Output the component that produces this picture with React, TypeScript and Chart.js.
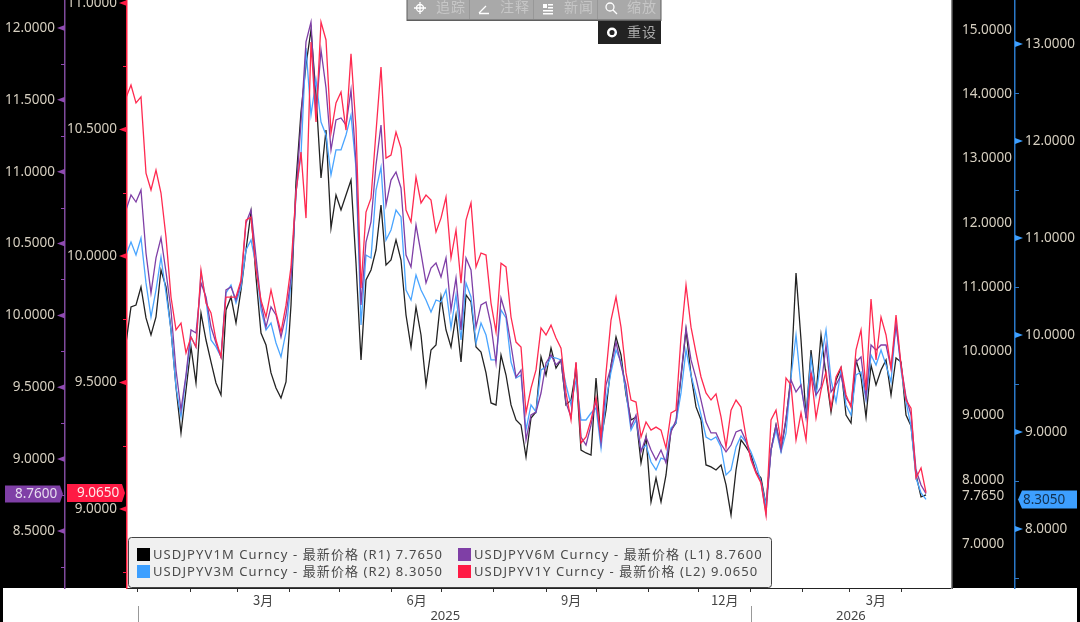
import React, { useEffect, useRef } from "react";
import { Chart, registerables } from "chart.js";

Chart.register(...registerables);

const usdjpyv1m = [
  10.129,10.689,10.720,11.000,10.518,10.253,10.533,11.265,11.000,10.331,
  9.444,8.728,9.397,10.066,9.506,10.595,10.175,9.833,9.506,9.319,
  10.642,10.845,10.440,10.953,11.576,12.167,11.156,10.284,10.097,9.662,
  9.428,9.273,9.522,10.720,12.634,13.724,14.455,15.000,13.988,12.697,
  13.444,11.918,12.432,12.199,12.432,12.665,11.374,9.864,11.109,11.265,
  11.576,12.276,11.343,11.420,11.732,11.420,10.564,10.066,10.689,10.253,
  9.475,10.020,10.097,10.845,10.331,10.066,10.564,9.833,10.876,10.767,
  10.066,9.988,9.662,9.195,9.164,9.942,9.630,9.164,8.930,8.852,
  8.354,8.961,9.055,9.911,9.630,10.051,9.739,9.864,9.164,9.241,
  9.708,8.463,8.417,8.385,9.584,8.619,9.086,9.786,10.222,9.942,
  9.319,8.930,8.977,8.261,8.666,7.654,8.027,7.654,8.074,8.774,
  8.883,9.599,10.331,9.630,9.133,8.930,8.230,8.199,8.152,8.230,
  7.919,7.452,8.152,8.619,8.510,8.385,8.121,8.027,7.607,8.463,
  8.852,8.463,8.930,9.630,11.218,10.175,8.961,10.020,9.319,10.253,
  9.630,9.055,9.553,9.739,9.008,8.883,9.864,9.599,8.977,9.786,
  9.475,9.708,9.864,9.319,9.895,9.833,9.008,8.837,8.074,7.732,
  7.765,
];

const usdjpyv3m = [
  10.825,10.959,10.825,11.000,10.537,10.186,10.464,10.805,10.433,10.052,
  9.464,9.155,9.567,9.980,9.877,10.640,10.361,9.949,9.877,9.774,
  10.433,10.516,10.330,10.495,10.877,10.980,10.722,10.258,10.052,10.124,
  9.918,9.774,10.031,10.547,11.475,11.856,12.959,12.268,12.629,12.196,
  12.062,11.650,11.908,11.908,12.062,12.268,11.722,10.104,10.825,10.794,
  11.495,11.732,10.980,11.083,11.289,11.217,10.464,10.361,10.619,10.464,
  10.361,10.238,10.361,10.341,10.464,10.073,10.413,9.949,10.537,10.392,
  9.918,10.124,10.000,9.743,9.743,10.258,10.176,9.722,9.557,9.588,
  9.021,9.279,9.207,9.640,9.671,9.774,9.763,9.743,9.485,9.279,
  9.537,9.124,9.124,9.196,9.248,8.836,9.330,9.619,9.846,9.722,
  9.413,9.021,9.124,8.815,8.866,8.691,8.609,8.732,8.712,9.042,
  9.093,9.403,9.846,9.588,9.382,9.176,8.949,8.918,8.949,8.846,
  8.557,8.609,8.846,8.959,8.897,8.794,8.660,8.485,8.248,8.815,
  9.021,8.794,8.990,9.567,10.000,9.464,9.176,9.763,9.382,9.743,
  10.052,9.537,9.310,9.640,9.279,9.176,9.588,9.619,9.330,9.794,
  9.691,9.846,9.691,9.516,10.134,9.640,9.310,9.062,8.526,8.372,
  8.305,
];

const usdjpyv6m = [
  10.734,10.838,10.789,10.873,10.434,10.156,10.400,10.539,10.302,10.038,
  9.620,9.342,9.585,9.899,9.878,10.226,10.128,9.919,9.808,9.711,
  10.177,10.198,10.107,10.226,10.643,10.734,10.407,10.086,9.919,10.059,
  10.003,9.850,10.003,10.260,10.838,11.346,11.903,12.042,11.395,11.847,
  11.583,11.151,11.360,11.374,11.325,11.569,11.061,10.073,10.511,10.650,
  11.047,11.325,10.768,10.942,10.998,10.887,10.420,10.337,10.629,10.434,
  10.226,10.330,10.365,10.267,10.400,10.038,10.260,9.899,10.400,10.316,
  9.919,10.073,10.093,9.933,9.669,10.121,10.003,9.794,9.571,9.620,
  9.133,9.307,9.328,9.460,9.669,9.725,9.655,9.690,9.391,9.293,
  9.669,9.154,9.098,9.237,9.411,9.112,9.516,9.641,9.815,9.655,
  9.516,9.224,9.307,9.050,9.154,9.063,8.994,9.063,8.973,9.189,
  9.272,9.585,9.912,9.690,9.564,9.411,9.258,9.182,9.182,9.105,
  9.050,9.098,9.189,9.203,9.126,9.008,8.910,8.841,8.625,9.063,
  9.237,9.063,9.286,9.551,9.467,9.516,9.286,9.606,9.446,9.502,
  9.794,9.467,9.516,9.585,9.425,9.377,9.676,9.711,9.432,9.794,
  9.759,9.794,9.794,9.634,9.933,9.655,9.432,9.307,8.924,8.820,
  8.760,
];

const usdjpyv1y = [
  10.625,10.676,10.605,10.629,10.328,10.261,10.340,10.249,10.075,9.838,
  9.708,9.735,9.617,9.680,9.640,9.945,9.814,9.775,9.668,9.601,
  9.838,9.838,9.838,9.905,10.142,10.154,9.945,9.826,9.759,9.866,
  9.775,9.700,9.806,9.957,10.253,10.411,10.150,10.846,10.530,10.925,
  10.854,10.486,10.605,10.648,10.498,10.799,10.506,9.874,10.174,10.229,
  10.490,10.747,10.387,10.399,10.490,10.427,10.182,10.135,10.312,10.210,
  10.241,10.221,10.095,10.150,10.233,9.992,10.103,9.893,10.142,10.210,
  9.957,10.012,10.004,9.814,9.700,9.972,9.957,9.759,9.660,9.640,
  9.380,9.478,9.550,9.716,9.688,9.727,9.676,9.636,9.459,9.352,
  9.581,9.261,9.285,9.352,9.439,9.285,9.538,9.747,9.838,9.719,
  9.538,9.431,9.423,9.285,9.344,9.312,9.324,9.312,9.241,9.380,
  9.391,9.680,9.885,9.719,9.617,9.522,9.459,9.431,9.455,9.364,
  9.245,9.391,9.431,9.403,9.285,9.194,9.142,9.103,8.976,9.352,
  9.391,9.261,9.518,9.490,9.273,9.380,9.273,9.538,9.360,9.470,
  9.542,9.399,9.522,9.561,9.451,9.403,9.629,9.708,9.470,9.830,
  9.589,9.759,9.688,9.557,9.767,9.569,9.431,9.399,9.123,9.162,
  9.065,
];

// Sampling dates, in days since 1 Jan 2025
const sampleDays = usdjpyv1y.map((_, i) => -7.15 + 2.978 * i);

const monthStartDays = [0, 31, 59, 90, 120, 151, 181, 212, 243, 273, 304, 334, 365, 396, 424, 455];
const monthLabelDays = [74.5, 166, 258, 349.5, 439.5];
const monthLabels = ["3月", "6月", "9月", "12月", "3月"];
const yearLabelDays = [183, 424.6];
const yearLabels = ["2025", "2026"];
const yearStartDays = [0, 365];

const l1Ticks = [8.25, 8.5, 8.75, 9, 9.25, 9.5, 9.75, 10, 10.25, 10.5, 10.75, 11, 11.25, 11.5, 11.75, 12];
const l2Ticks = [8.75, 9, 9.25, 9.5, 9.75, 10, 10.25, 10.5, 10.75, 11];
const r1Ticks = [7, 8, 9, 10, 11, 12, 13, 14, 15];
const r2Ticks = [7.5, 8, 8.5, 9, 9.5, 10, 10.5, 11, 11.5, 12, 12.5, 13];

const toolbarLabels = ["追踪", "注释", "新闻", "缩放"];
const resetLabel = "重设";

const legendRows = [
  { text: "USDJPYV1M Curncy - 最新价格 (R1) 7.7650", color: "#000000" },
  { text: "USDJPYV3M Curncy - 最新价格 (R2) 8.3050", color: "#3d9fff" },
  { text: "USDJPYV6M Curncy - 最新价格 (L1) 8.7600", color: "#7f3fa6" },
  { text: "USDJPYV1Y Curncy - 最新价格 (L2) 9.0650", color: "#ff1a44" },
];

const AXIS_TEXT = "#d6cfc0";
const FONT = '"Noto Sans", "Noto Sans CJK SC", sans-serif';
const CJK = '"Noto Sans CJK SC", "Noto Sans", sans-serif';

function noMargins(s: any) {
  s.paddingTop = 0;
  s.paddingBottom = 0;
  s.paddingLeft = 0;
  s.paddingRight = 0;
}
function fixedWidth(w: number) {
  return (s: any) => { s.width = w; noMargins(s); };
}
function fixedHeight(h: number) {
  return (s: any) => { s.height = h; noMargins(s); };
}

function yAxis(position: string, weight: number, min: number, max: number, list: number[], major: number, width: number, border: string) {
  return {
    type: "linear",
    position,
    weight,
    min,
    max,
    afterBuildTicks: (s: any) => { s.ticks = list.map((value) => ({ value })); },
    afterFit: fixedWidth(width),
    grid: { display: false, drawOnChartArea: false, drawTicks: false },
    border: { display: true, color: border, width: 1.5 },
    ticks: {
      autoSkip: false,
      padding: 10,
      color: AXIS_TEXT,
      font: { family: FONT, size: 13.5 },
      callback: (v: number) => (Math.abs(v / major - Math.round(v / major)) < 1e-6 ? v.toFixed(4) : ""),
    },
  };
}

function badge(ctx: any, xBody0: number, xBody1: number, xTip: number, y: number, h: number, fill: string, text: string, textColor: string, textX: number) {
  ctx.save();
  ctx.fillStyle = fill;
  ctx.beginPath();
  ctx.moveTo(xBody0, y - h / 2);
  ctx.lineTo(xBody1, y - h / 2);
  ctx.lineTo(xTip, y);
  ctx.lineTo(xBody1, y + h / 2);
  ctx.lineTo(xBody0, y + h / 2);
  ctx.closePath();
  ctx.fill();
  ctx.fillStyle = textColor;
  ctx.font = `13.5px ${FONT}`;
  ctx.textAlign = "left";
  ctx.textBaseline = "middle";
  ctx.fillText(text, textX, y + 0.5);
  ctx.restore();
}

function markers(ctx: any, scale: any, axisX: number, dir: number, major: number, fill: string, minorColor: string, list: number[]) {
  ctx.save();
  for (const v of list) {
    const y = scale.getPixelForValue(v);
    const isMajor = Math.abs(v / major - Math.round(v / major)) < 1e-6;
    if (isMajor) {
      ctx.fillStyle = fill;
      ctx.beginPath();
      ctx.moveTo(axisX, y - 3);
      ctx.lineTo(axisX + dir * 8, y);
      ctx.lineTo(axisX, y + 3);
      ctx.closePath();
      ctx.fill();
    } else {
      ctx.strokeStyle = minorColor;
      ctx.lineWidth = 1;
      ctx.beginPath();
      ctx.moveTo(axisX, Math.round(y) + 0.5);
      ctx.lineTo(axisX + dir * 4, Math.round(y) + 0.5);
      ctx.stroke();
    }
  }
  ctx.restore();
}

const backdrop = {
  id: "backdrop",
  beforeDraw(chart: any) {
    const { ctx, chartArea: a, width, height } = chart;
    ctx.save();
    ctx.fillStyle = "#000000";
    ctx.fillRect(0, 0, width, height);
    ctx.fillStyle = "#ffffff";
    ctx.fillRect(a.left, a.top, a.right - a.left, a.bottom - a.top);
    ctx.fillRect(3, a.bottom, 1074, height - a.bottom);
    ctx.restore();
  },
};

const overlay = {
  id: "overlay",
  afterDraw(chart: any) {
    const { ctx, scales } = chart;

    // year separators
    ctx.save();
    ctx.strokeStyle = "#999999";
    ctx.lineWidth = 1;
    for (const d of yearStartDays) {
      const x = Math.round(scales.x.getPixelForValue(d)) + 0.5;
      ctx.beginPath();
      ctx.moveTo(x, 606);
      ctx.lineTo(x, 622);
      ctx.stroke();
    }
    ctx.restore();

    // axis markers
    markers(ctx, scales.l1, 65, -1, 0.5, "#8e4bb0", "#8e4bb0", l1Ticks);
    markers(ctx, scales.l2, 127, -1, 0.5, "#ff1a44", "#ff1a44", l2Ticks);
    markers(ctx, scales.r2, 1015, 1, 1, "#3d9fff", "#2f78c4", r2Ticks);

    // last-value badges
    badge(ctx, 5, 60, 63, scales.l1.getPixelForValue(usdjpyv6m[usdjpyv6m.length - 1]) + 0.5, 17, "#7f3fa6", usdjpyv6m[usdjpyv6m.length - 1].toFixed(4), "#e6dcef", 15);
    badge(ctx, 67, 122, 125, scales.l2.getPixelForValue(usdjpyv1y[usdjpyv1y.length - 1]) + 0.5, 18, "#ff1a44", usdjpyv1y[usdjpyv1y.length - 1].toFixed(4), "#ffe8e8", 77);
    badge(ctx, 1077, 1022, 1018, scales.r2.getPixelForValue(usdjpyv3m[usdjpyv3m.length - 1]), 18, "#3d9fff", usdjpyv3m[usdjpyv3m.length - 1].toFixed(4), "#12304f", 1023);
    badge(ctx, 954, 1013, 1013, scales.r1.getPixelForValue(usdjpyv1m[usdjpyv1m.length - 1]) + 1, 16, "#000000", usdjpyv1m[usdjpyv1m.length - 1].toFixed(4), AXIS_TEXT, 962);

    // legend box
    ctx.save();
    ctx.fillStyle = "#f0f0f0";
    ctx.strokeStyle = "#444444";
    ctx.lineWidth = 1;
    ctx.beginPath();
    ctx.roundRect(128.5, 537.5, 643, 50, 3);
    ctx.fill();
    ctx.stroke();
    const cols = [137, 458];
    const rows = [548, 565];
    ctx.textBaseline = "middle";
    ctx.textAlign = "left";
    ctx.font = `13px ${FONT}`;
    if ("letterSpacing" in ctx) ctx.letterSpacing = "1.1px";
    legendRows.forEach((r, i) => {
      const cx = cols[i < 2 ? 0 : 1];
      const cy = rows[i % 2];
      ctx.fillStyle = r.color;
      ctx.fillRect(cx, cy, 13, 13);
      ctx.fillStyle = "#4a4a4a";
      ctx.fillText(r.text, cx + 16, cy + 7);
    });
    if ("letterSpacing" in ctx) ctx.letterSpacing = "0px";
    ctx.restore();

    // toolbar
    ctx.save();
    ctx.fillStyle = "#a9a9a9";
    ctx.fillRect(407, 0, 254, 20);
    ctx.fillStyle = "#5f5f5f";
    ctx.fillRect(407, 19.5, 254, 1.5);
    ctx.fillRect(406.5, 0, 1, 21);
    ctx.fillRect(660.5, 0, 1, 21);
    ctx.fillStyle = "#989898";
    ctx.fillRect(469, 0, 1, 19);
    ctx.fillRect(533, 0, 1, 19);
    ctx.fillRect(597, 0, 1, 19);
    ctx.textAlign = "left";
    ctx.textBaseline = "middle";
    ctx.font = `14px ${CJK}`;
    if ("letterSpacing" in ctx) ctx.letterSpacing = "1px";
    ctx.fillStyle = "#c6c6c6";
    [436, 500, 564, 627].forEach((x, i) => ctx.fillText(toolbarLabels[i], x, 7));
    if ("letterSpacing" in ctx) ctx.letterSpacing = "0px";
    ctx.strokeStyle = "#ffffff";
    ctx.fillStyle = "#ffffff";
    ctx.lineWidth = 1.3;
    // crosshair icon
    ctx.beginPath();
    ctx.arc(420, 8, 3.5, 0, Math.PI * 2);
    ctx.moveTo(414, 8); ctx.lineTo(426, 8);
    ctx.moveTo(420, 2); ctx.lineTo(420, 14);
    ctx.stroke();
    // pencil icon
    ctx.beginPath();
    ctx.moveTo(479, 13); ctx.lineTo(486, 6);
    ctx.moveTo(479, 13.5); ctx.lineTo(489, 13.5);
    ctx.stroke();
    // news icon
    ctx.fillRect(543, 4, 4, 4);
    ctx.fillRect(548, 4, 5, 1.5);
    ctx.fillRect(548, 7, 5, 1.5);
    ctx.fillRect(543, 10, 10, 1.5);
    ctx.fillRect(543, 13, 10, 1.5);
    // magnifier icon
    ctx.beginPath();
    ctx.arc(610, 7, 4, 0, Math.PI * 2);
    ctx.moveTo(613, 10); ctx.lineTo(617, 14);
    ctx.stroke();
    // reset button
    ctx.fillStyle = "#222222";
    ctx.fillRect(598, 21, 63, 23);
    ctx.strokeStyle = "#ffffff";
    ctx.lineWidth = 2.5;
    ctx.beginPath();
    ctx.arc(612, 32.5, 3.8, 0, Math.PI * 2);
    ctx.stroke();
    ctx.fillStyle = "#a9a9a9";
    ctx.font = `14px ${CJK}`;
    if ("letterSpacing" in ctx) ctx.letterSpacing = "1px";
    ctx.fillText(resetLabel, 627, 32);
    if ("letterSpacing" in ctx) ctx.letterSpacing = "0px";
    ctx.restore();
  },
};

export default function App() {
  const ref = useRef<HTMLCanvasElement | null>(null);

  useEffect(() => {
    document.body.style.margin = "0";
    document.body.style.background = "#000";
    document.body.style.overflow = "hidden";
    const line = (label: string, data: number[], color: string, yAxisID: string, order: number) => ({
      label,
      data: data.map((y, i) => ({ x: sampleDays[i], y })),
      borderColor: color,
      borderWidth: 1.3,
      pointRadius: 0,
      tension: 0,
      fill: false,
      xAxisID: "x",
      yAxisID,
      order,
    });
    const chart = new Chart(ref.current as HTMLCanvasElement, {
      type: "line",
      data: {
        datasets: [
          line("USDJPYV1M Curncy", usdjpyv1m, "#222222", "r1", 4),
          line("USDJPYV3M Curncy", usdjpyv3m, "#4aa5ff", "r2", 3),
          line("USDJPYV6M Curncy", usdjpyv6m, "#7f3fa6", "l1", 2),
          line("USDJPYV1Y Curncy", usdjpyv1y, "#ff2a50", "l2", 1),
        ],
      },
      plugins: [backdrop, overlay],
      options: {
        animation: false,
        responsive: false,
        devicePixelRatio: 1,
        layout: { padding: 0 },
        plugins: { legend: { display: false }, tooltip: { enabled: false } },
        scales: {
          x: {
            type: "linear",
            position: "bottom",
            weight: 0,
            min: -6.55,
            max: 484.8,
            afterBuildTicks: (s: any) => { s.ticks = monthStartDays.map((value) => ({ value })); },
            afterFit: fixedHeight(4),
            grid: { drawOnChartArea: false, drawTicks: true, tickLength: 4, tickColor: "#333333" },
            border: { display: true, color: "#222222", width: 1 },
            ticks: { autoSkip: false, maxRotation: 0, padding: 0, callback: () => "" },
          },
          xMonths: {
            type: "linear",
            position: "bottom",
            weight: 1,
            min: -6.55,
            max: 484.8,
            afterBuildTicks: (s: any) => { s.ticks = monthLabelDays.map((value) => ({ value })); },
            afterFit: fixedHeight(15),
            grid: { display: false, drawTicks: false },
            border: { display: false },
            ticks: {
              autoSkip: false,
              maxRotation: 0,
              padding: 0,
              color: "#444444",
              font: { family: CJK, size: 13 },
              callback: (v: number) => monthLabels[monthLabelDays.indexOf(v)],
            },
          },
          xYears: {
            type: "linear",
            position: "bottom",
            weight: 2,
            min: -6.55,
            max: 484.8,
            afterBuildTicks: (s: any) => { s.ticks = yearLabelDays.map((value) => ({ value })); },
            afterFit: fixedHeight(15),
            grid: { display: false, drawTicks: false },
            border: { display: false },
            ticks: {
              autoSkip: false,
              maxRotation: 0,
              padding: 1,
              color: "#444444",
              font: { family: FONT, size: 13 },
              callback: (v: number) => yearLabels[yearLabelDays.indexOf(v)],
            },
          },
          l2: yAxis("left", 0, 8.688, 11.012, l2Ticks, 0.5, 62, "#ff2040"),
          l1: yAxis("left", 1, 8.103, 12.195, l1Ticks, 0.5, 65, "#7f4a9c"),
          r1: yAxis("right", 0, 6.315, 15.467, r1Ticks, 1, 63, "#888888"),
          r2: yAxis("right", 1, 7.392, 13.454, r2Ticks, 1, 65, "#2a78c8"),
        },
      },
    } as any);
    return () => chart.destroy();
  }, []);

  return (
    <div style={{ width: 1080, height: 622, overflow: "hidden" }}>
      <canvas ref={ref} width={1080} height={622} style={{ display: "block" }} />
    </div>
  );
}
